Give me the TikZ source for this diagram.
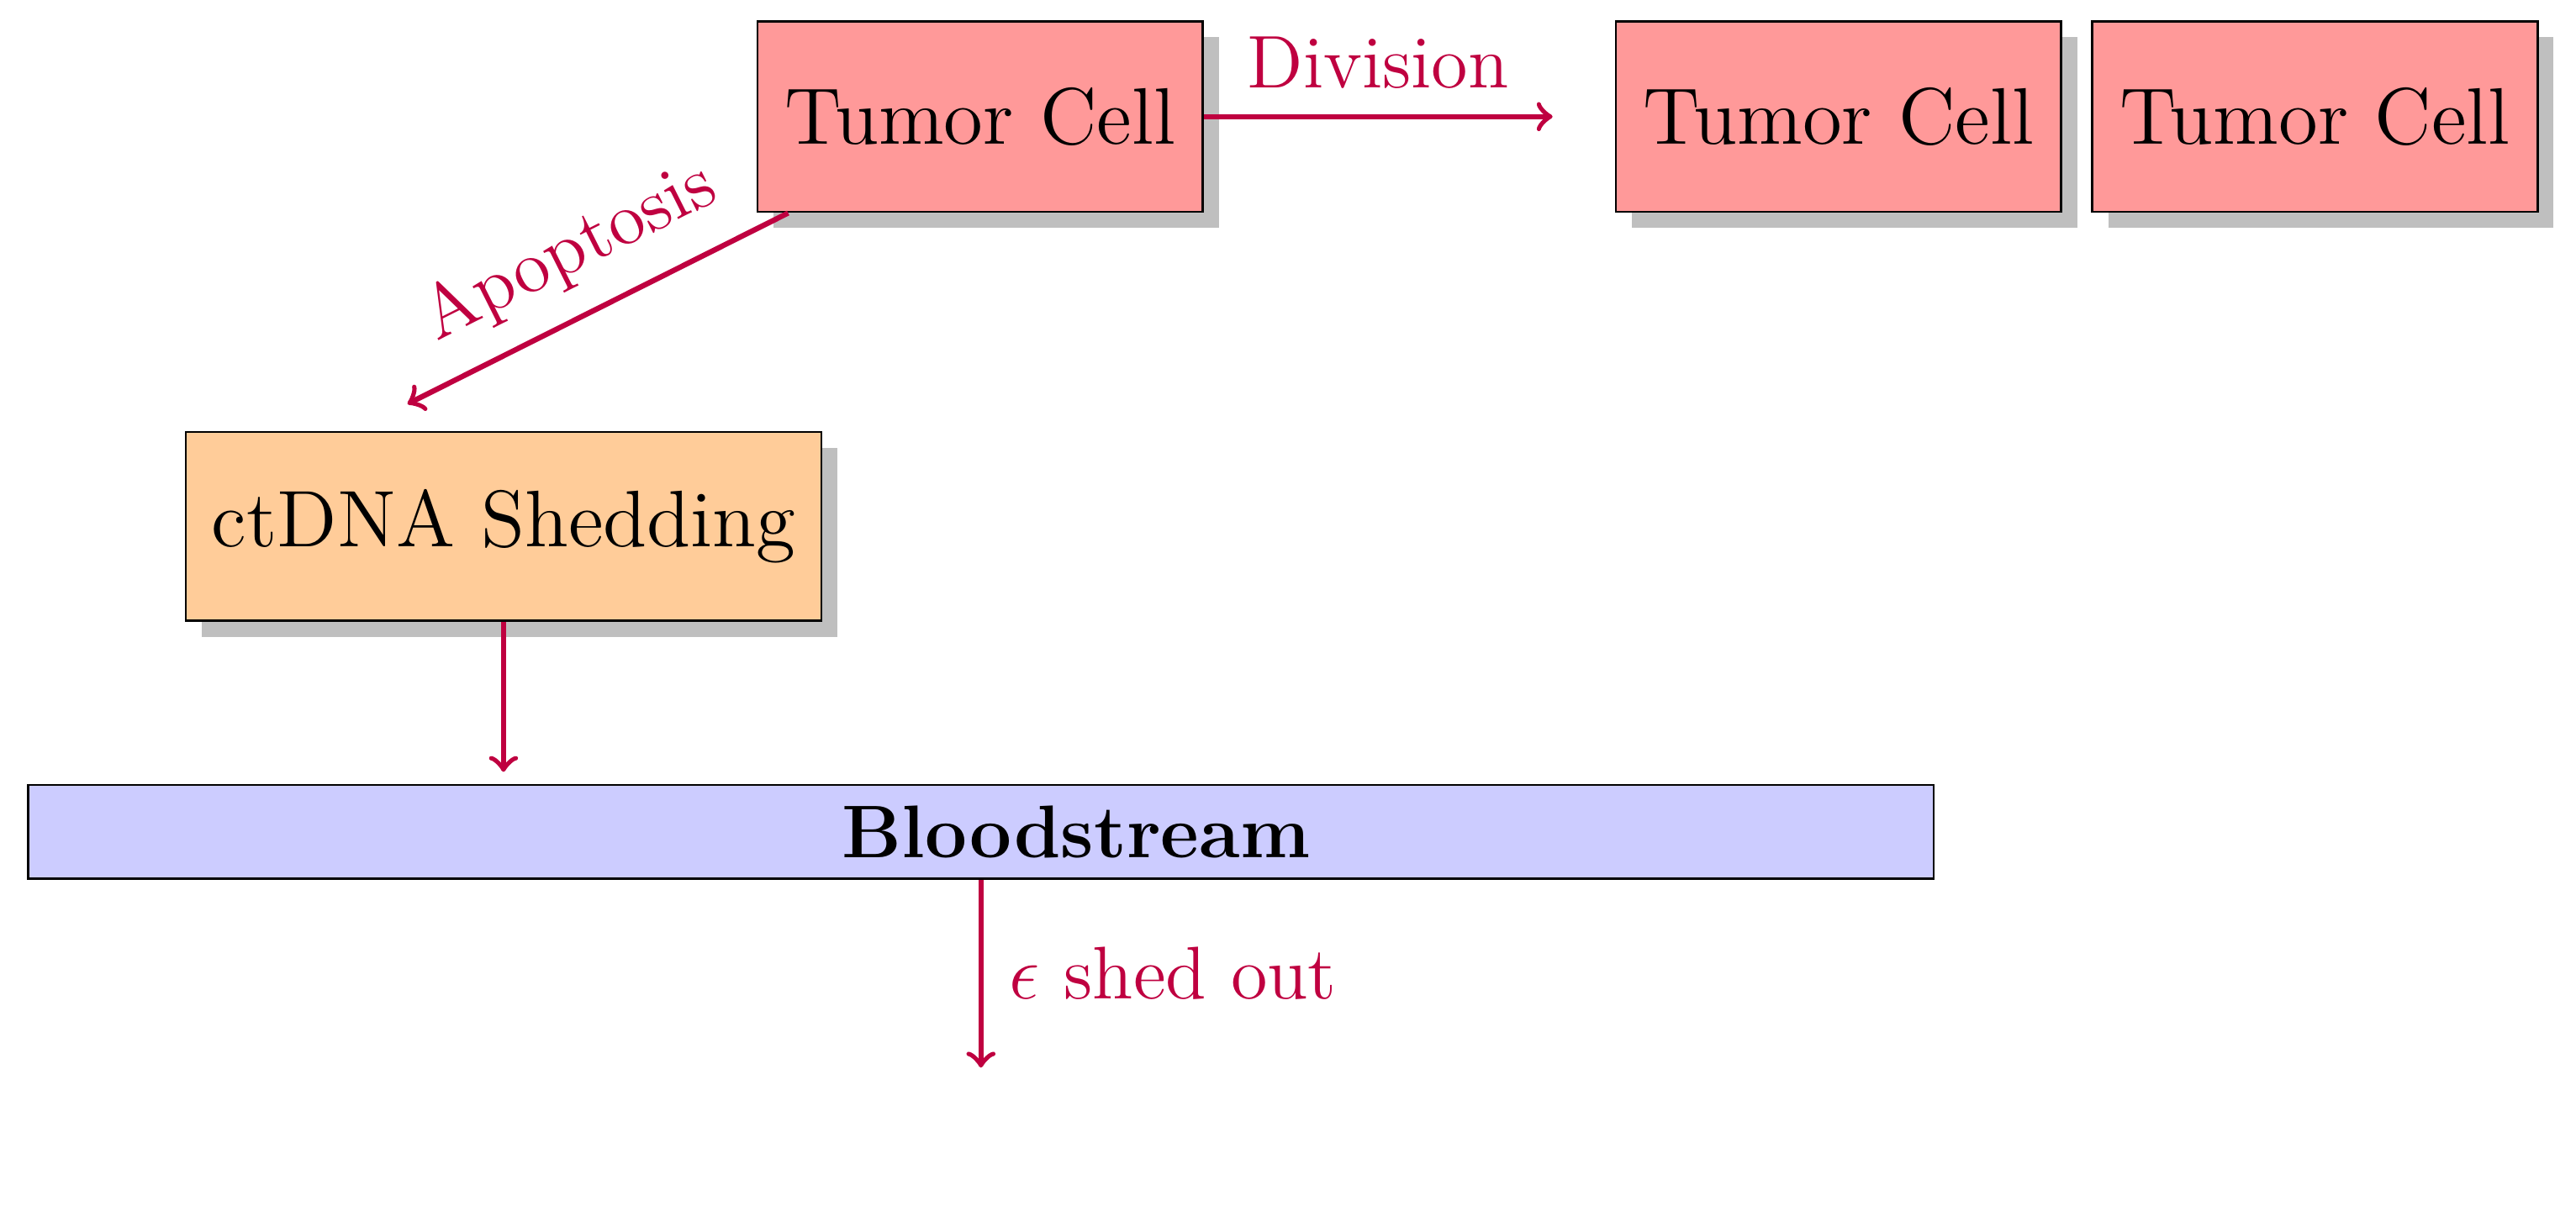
\documentclass[tikz,border=0pt]{standalone}
\usetikzlibrary{shadows}
\begin{document}
\begin{tikzpicture}[
  cell/.style={draw, fill=red!40, drop shadow={shadow xshift=3pt, shadow yshift=-3pt}, scale=1.045, minimum width=2.809cm, minimum height=1.202cm, font=\Large},
  shedbox/.style={draw, fill=orange!40, drop shadow={shadow xshift=3pt, shadow yshift=-3pt}, scale=1.045, minimum width=4.01cm, minimum height=1.191cm, font=\Large},
  bloodbox/.style={draw, fill=blue!20, minimum width=12.56cm, minimum height=0.617cm},
  flow/.style={->, line width=1pt, purple},
  tag/.style={font=\fontsize{14}{17}\selectfont, text=purple}
]
  \useasboundingbox (0,0) rectangle (16.98,-8.09);
  \node[cell] (tumor) at (6.460,-0.769) {Tumor Cell};
  \node[cell] (daughterA) at (12.119,-0.769) {Tumor Cell};
  \node[cell] (daughterB) at (15.259,-0.769) {Tumor Cell};
  \node[shedbox] (ctdna) at (3.319,-3.471) {ctDNA Shedding};
  \node[bloodbox] (blood) at (6.466,-5.485) {};
  \node[font=\fontsize{14}{17}\selectfont\bfseries] (bloodtext) at ([xshift=0.628cm]blood) {Bloodstream};
  \coordinate (divend) at (10.234,-0.769);
  \coordinate (apopend) at (2.686,-2.664);
  \coordinate (bloodin) at (3.319,-5.090);
  \coordinate (shedend) at (6.466,-7.040);
  \draw[flow] (tumor.east) -- (divend) node[tag, midway, above=1.5pt]{Division};
  \draw[flow] (tumor) -- (apopend) node[tag, midway, above=1.5pt, sloped]{Apoptosis};
  \draw[flow] (ctdna.south) -- (bloodin);
  \draw[flow] (blood.south) -- (shedend) node[tag, midway, right=1.5pt]{$\epsilon$ shed out};
\end{tikzpicture}
\end{document}
